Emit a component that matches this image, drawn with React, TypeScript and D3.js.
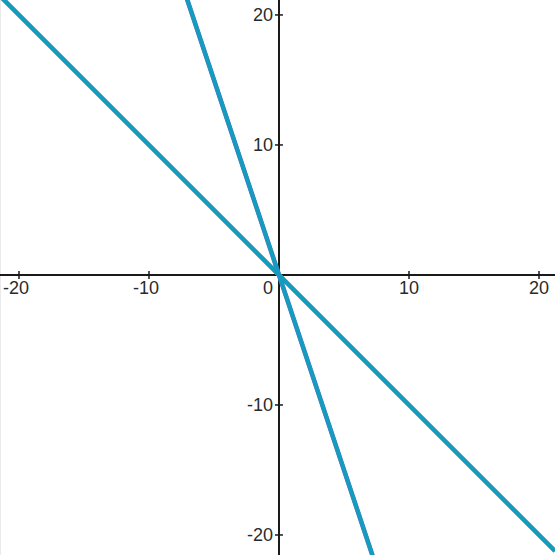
import React, { useEffect, useRef } from 'react';
import * as d3 from 'd3';

// y = slope * x, drawn over the whole visible domain
const slopes = [-1, -3];
const edgeColors = ['#e4675a', '#5a6ad8'];
const lineColor = '#159bbb';

const xTicks = [-20, -10, 10, 20];
const yTicks = [-20, -10, 10, 20];

const xDomain: [number, number] = [-21.46, 21.23];
const yDomain: [number, number] = [21.15, -21.54];

export default function App() {
  const svgRef = useRef<SVGSVGElement>(null);

  useEffect(() => {
    if (!svgRef.current) return;
    document.body.style.margin = '0';

    const width = 555;
    const height = 555;

    const svg = d3.select(svgRef.current);
    svg.selectAll('*').remove();

    const x = d3.scaleLinear().domain(xDomain).range([0, width]);
    const y = d3.scaleLinear().domain(yDomain).range([0, height]);

    const x0 = x(0);
    const y0 = y(0);

    // left border strip
    svg.append('line')
      .attr('x1', 0.5).attr('x2', 0.5)
      .attr('y1', 0).attr('y2', height)
      .attr('stroke', '#eaeaea')
      .attr('stroke-width', 1);

    // axes
    const axisColor = '#1a1a1a';
    svg.append('line')
      .attr('x1', 0).attr('x2', width)
      .attr('y1', y0).attr('y2', y0)
      .attr('stroke', axisColor)
      .attr('stroke-width', 2);
    svg.append('line')
      .attr('x1', x0).attr('x2', x0)
      .attr('y1', 0).attr('y2', height)
      .attr('stroke', axisColor)
      .attr('stroke-width', 2);

    // x ticks
    svg.selectAll('.xtick')
      .data(xTicks)
      .join('line')
      .attr('class', 'xtick')
      .attr('x1', (d) => x(d)).attr('x2', (d) => x(d))
      .attr('y1', y0 - 4).attr('y2', y0 + 4)
      .attr('stroke', axisColor)
      .attr('stroke-width', 1.5);

    svg.selectAll('.xlabel')
      .data(xTicks)
      .join('text')
      .attr('class', 'xlabel')
      .attr('x', (d) => x(d))
      .attr('dx', (d) => (d < 0 ? -3 : 0))
      .attr('y', y0 + 19)
      .attr('text-anchor', 'middle')
      .attr('font-family', '"Liberation Sans", Arial, sans-serif')
      .attr('font-size', 18)
      .attr('fill', '#2a2a2a')
      .text((d) => d);

    // y ticks
    svg.selectAll('.ytick')
      .data(yTicks)
      .join('line')
      .attr('class', 'ytick')
      .attr('x1', x0 - 4).attr('x2', x0 + 4)
      .attr('y1', (d) => y(d)).attr('y2', (d) => y(d))
      .attr('stroke', axisColor)
      .attr('stroke-width', 1.5);

    svg.selectAll('.ylabel')
      .data(yTicks)
      .join('text')
      .attr('class', 'ylabel')
      .attr('x', x0 - 6)
      .attr('y', (d) => y(d) + 6)
      .attr('text-anchor', 'end')
      .attr('font-family', '"Liberation Sans", Arial, sans-serif')
      .attr('font-size', 18)
      .attr('fill', '#2a2a2a')
      .text((d) => d);

    // origin label
    svg.append('text')
      .attr('x', x0 - 6)
      .attr('y', y0 + 19)
      .attr('text-anchor', 'end')
      .attr('font-family', '"Liberation Sans", Arial, sans-serif')
      .attr('font-size', 18)
      .attr('fill', '#2a2a2a')
      .text(0);

    // function graphs
    const line = d3.line<number>()
      .x((d) => x(d[0]))
      .y((d) => y(d[1]));

    const pts = (m: number) => xDomain.map((xv) => [xv, m * xv]);

    const g = svg.append('g');
    slopes.forEach((m, i) => {
      g.append('path')
        .datum(pts(m))
        .attr('fill', 'none')
        .attr('stroke', edgeColors[i])
        .attr('stroke-width', 4.6)
        .attr('d', line as any);
    });
    slopes.forEach((m) => {
      g.append('path')
        .datum(pts(m))
        .attr('fill', 'none')
        .attr('stroke', lineColor)
        .attr('stroke-width', 4)
        .attr('d', line as any);
    });
  }, []);

  return (
    <div style={{ position: 'absolute', left: 0, top: 0, width: 555, height: 555 }}>
      <svg ref={svgRef} width={555} height={555} style={{ display: 'block' }} />
    </div>
  );
}
